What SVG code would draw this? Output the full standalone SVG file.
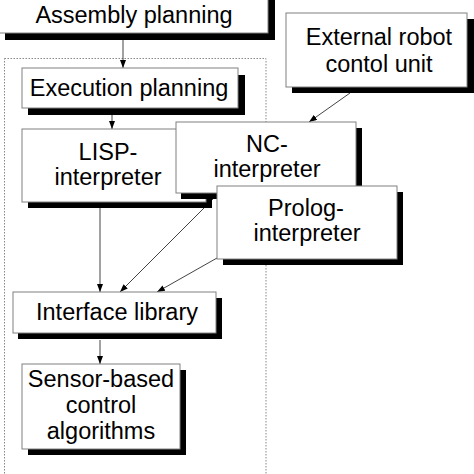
<svg xmlns="http://www.w3.org/2000/svg" width="474" height="474" viewBox="0 0 474 474">
<style>
.box{fill:#fff;stroke:#808080;stroke-width:1}
.sh{fill:#000}
.t{font-family:"Liberation Sans",Arial,sans-serif;font-size:23.5px;fill:#000;text-anchor:middle}
.c{stroke:#444;stroke-width:1;fill:none;marker-end:url(#ah)}
.frame{fill:none;stroke:#888;stroke-width:1;stroke-dasharray:1.5 1.5}
</style>
<defs>
<marker id="ah" markerWidth="8" markerHeight="6" refX="8" refY="3" orient="auto" markerUnits="userSpaceOnUse">
<path d="M0,0 L8,3 L0,6 Z" fill="#000"/>
</marker>
</defs>
<rect width="474" height="474" fill="#fff"/>
<rect class="frame" x="4.5" y="58.5" width="261.5" height="480"/>
<g id="connectors">
<line class="c" x1="123" y1="40" x2="123" y2="68"/>
<line class="c" x1="112" y1="115" x2="112" y2="129"/>
<line class="c" x1="350" y1="93" x2="309" y2="122"/>
<line class="c" x1="100" y1="208" x2="100" y2="292"/>
<line class="c" x1="222" y1="190" x2="120" y2="292"/>
<line class="c" x1="217" y1="258" x2="157" y2="292"/>
<line class="c" x1="100" y1="340" x2="100" y2="364"/>
</g>
<g id="assembly">
<rect class="sh" x="5" y="-13" width="270" height="53"/>
<rect class="box" x="-2" y="-20" width="270" height="53"/>
<text class="t" x="134" y="23">Assembly planning</text>
</g>
<g id="external">
<rect class="sh" x="292" y="19" width="182" height="74"/>
<rect class="box" x="286" y="13" width="181" height="74"/>
<text class="t" x="379" y="45">External robot</text>
<text class="t" x="379" y="72">contol unit</text>
</g>
<g id="execution">
<rect class="sh" x="28" y="75" width="217" height="40"/>
<rect class="box" x="22" y="68" width="216" height="40"/>
<text class="t" x="129" y="96">Execution planning</text>
</g>
<g id="lisp">
<rect class="sh" x="28" y="135" width="184" height="73"/>
<rect class="box" x="22" y="129" width="184" height="73"/>
<text class="t" x="108" y="160">LISP-</text>
<text class="t" x="108" y="185">interpreter</text>
</g>
<g id="nc">
<rect class="sh" x="181" y="128" width="181" height="71"/>
<rect class="box" x="176" y="122" width="180" height="71"/>
<text class="t" x="267" y="152">NC-</text>
<text class="t" x="267" y="177">interpreter</text>
</g>
<g id="prolog">
<rect class="sh" x="223" y="192" width="180" height="73"/>
<rect class="box" x="217" y="186" width="180" height="73"/>
<text class="t" x="306" y="216">Prolog-</text>
<text class="t" x="307" y="241">interpreter</text>
</g>
<g id="interface">
<rect class="sh" x="18" y="298" width="204" height="41"/>
<rect class="box" x="13" y="292" width="203" height="41"/>
<text class="t" x="117" y="320">Interface library</text>
</g>
<g id="sensor">
<rect class="sh" x="28" y="370" width="158" height="85"/>
<rect class="box" x="22" y="364" width="158" height="85"/>
<text class="t" x="101" y="387">Sensor-based</text>
<text class="t" x="101" y="413">control</text>
<text class="t" x="101" y="439">algorithms</text>
</g>
</svg>
